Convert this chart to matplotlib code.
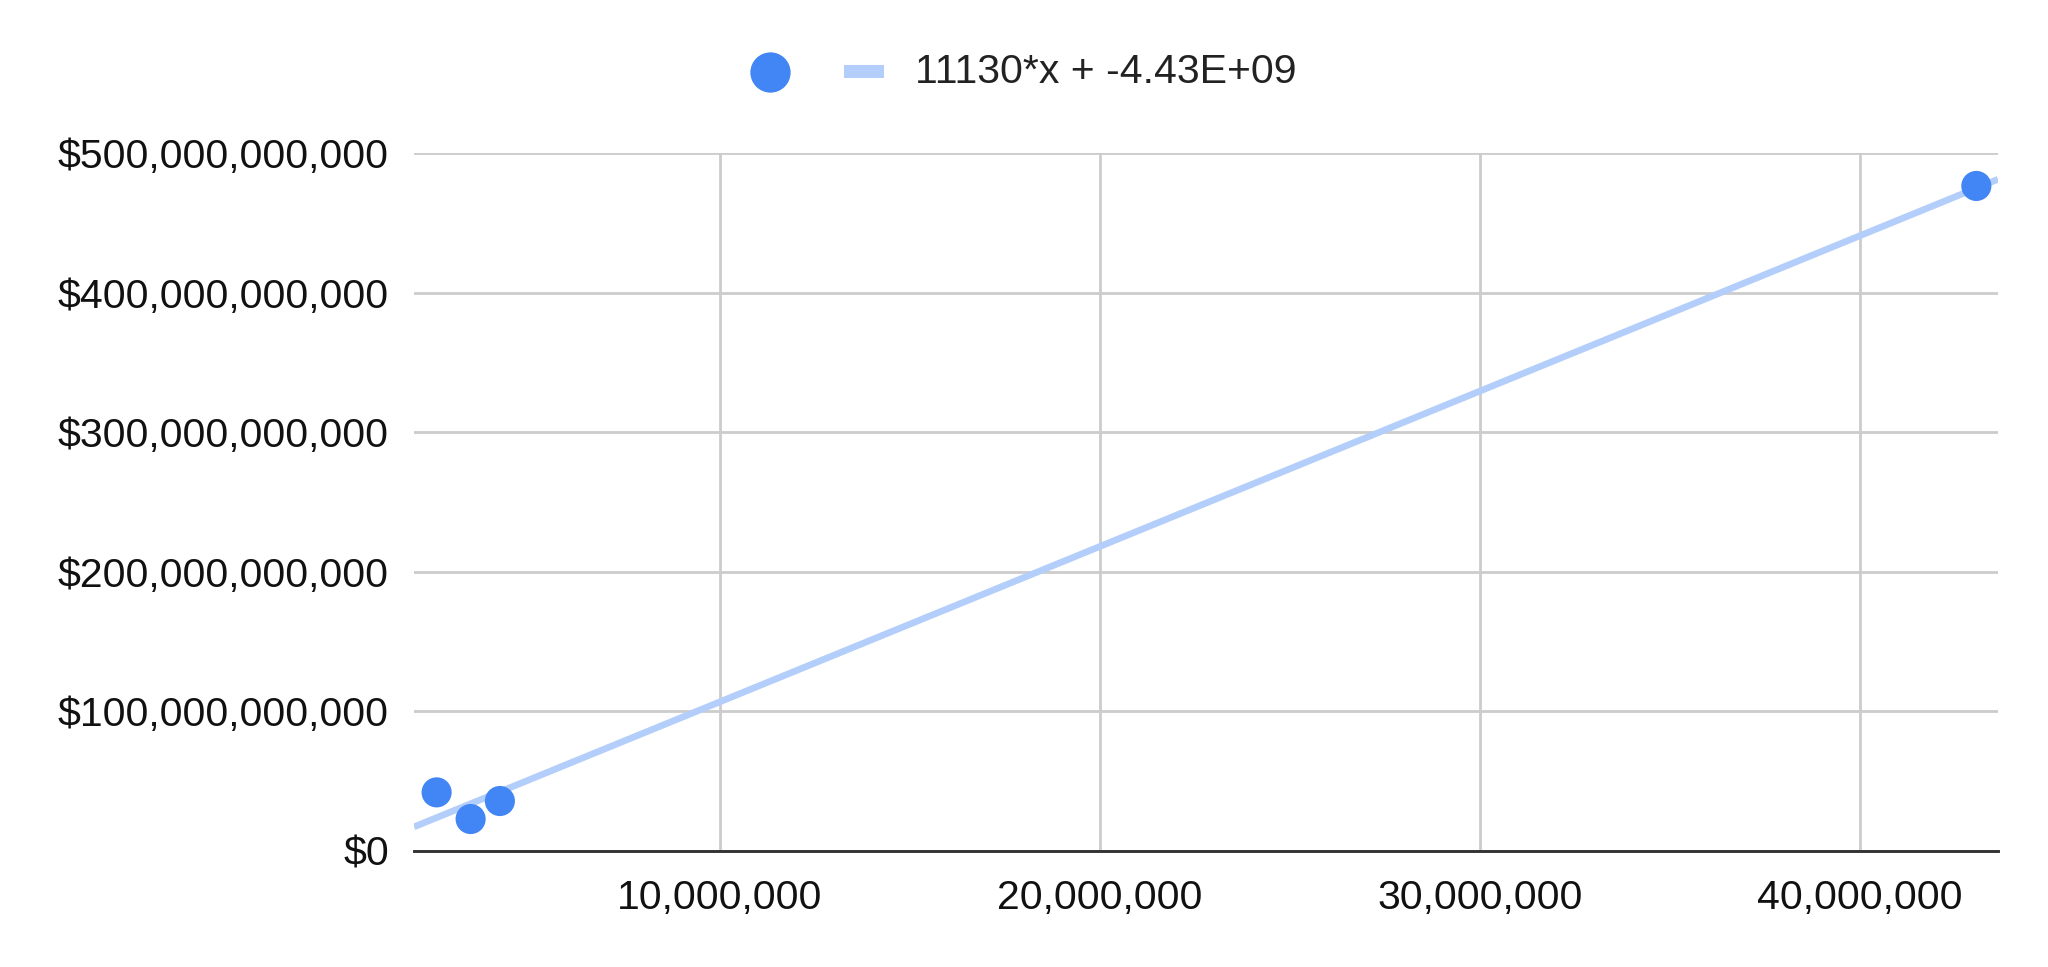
import matplotlib
matplotlib.use("Agg")
import matplotlib.pyplot as plt
from matplotlib.lines import Line2D
from matplotlib.patches import Rectangle
from matplotlib.ticker import FuncFormatter, FixedLocator
import numpy as np

plt.rcParams['font.family'] = ['Liberation Sans', 'DejaVu Sans']

# Data
x_values = [2545000, 3440000, 4210000, 43060000]
y_values = [42.0e9, 22.9e9, 35.8e9, 476.4e9]
trend_slope = 11130
trend_intercept = -4.43e9
trend_label = "11130*x + -4.43E+09"
x_ticks = [10e6, 20e6, 30e6, 40e6]
y_ticks = [0, 100e9, 200e9, 300e9, 400e9, 500e9]

W, H = 2048, 967
fig = plt.figure(figsize=(W / 100, H / 100), dpi=100)
left, right, bottom, top = 414, 1998, 851, 153
ax = fig.add_axes([left / W, 1 - bottom / H, (right - left) / W, (bottom - top) / H])

xmin, xmax = 1.95e6, 43.63e6
ax.set_xlim(xmin, xmax)
ax.set_ylim(0, 500e9)

blue = '#4285F4'
light = '#B3CEFA'

xs = np.array([xmin, xmax])
ax.plot(xs, trend_slope * xs + trend_intercept, color=light, lw=4.8,
        solid_capstyle='butt', zorder=3, clip_on=True)
ax.scatter(x_values, y_values, s=470, color=blue, edgecolors='none', zorder=4, clip_on=False)

ax.xaxis.set_major_locator(FixedLocator(x_ticks))
ax.yaxis.set_major_locator(FixedLocator(y_ticks))
ax.xaxis.set_major_formatter(FuncFormatter(lambda v, p: f"{int(round(v)):,}"))
ax.yaxis.set_major_formatter(FuncFormatter(lambda v, p: f"${int(round(v)):,}"))

ax.grid(True, color='#CCCCCC', lw=2.0, zorder=0)
ax.set_axisbelow(True)
for s in ['top', 'right', 'left']:
    ax.spines[s].set_visible(False)
ax.spines['bottom'].set_color('#333333')
ax.spines['bottom'].set_linewidth(2.1)
ax.spines['bottom'].set_zorder(5)
ax.tick_params(axis='both', length=0, labelsize=29.5, colors='#000000')
ax.tick_params(axis='y', pad=18)
ax.tick_params(axis='x', pad=20)
for lab in ax.get_xticklabels() + ax.get_yticklabels():
    lab.set_color('#111111')

# Legend drawn in figure pixel coordinates
ly = 1 - 71.7 / H
fig.add_artist(Line2D([770.3 / W], [ly], marker='o', markersize=29, color=blue,
                      markeredgewidth=0, linestyle='none', transform=fig.transFigure))
fig.add_artist(Rectangle((844 / W, 1 - 78.3 / H), 40.3 / W, 13.3 / H, color=light,
                         transform=fig.transFigure, lw=0))
fig.text(915 / W, ly, trend_label, fontsize=29.5, color='#222222', va='center', ha='left')

fig.savefig('out.png', dpi=100, facecolor='white')
